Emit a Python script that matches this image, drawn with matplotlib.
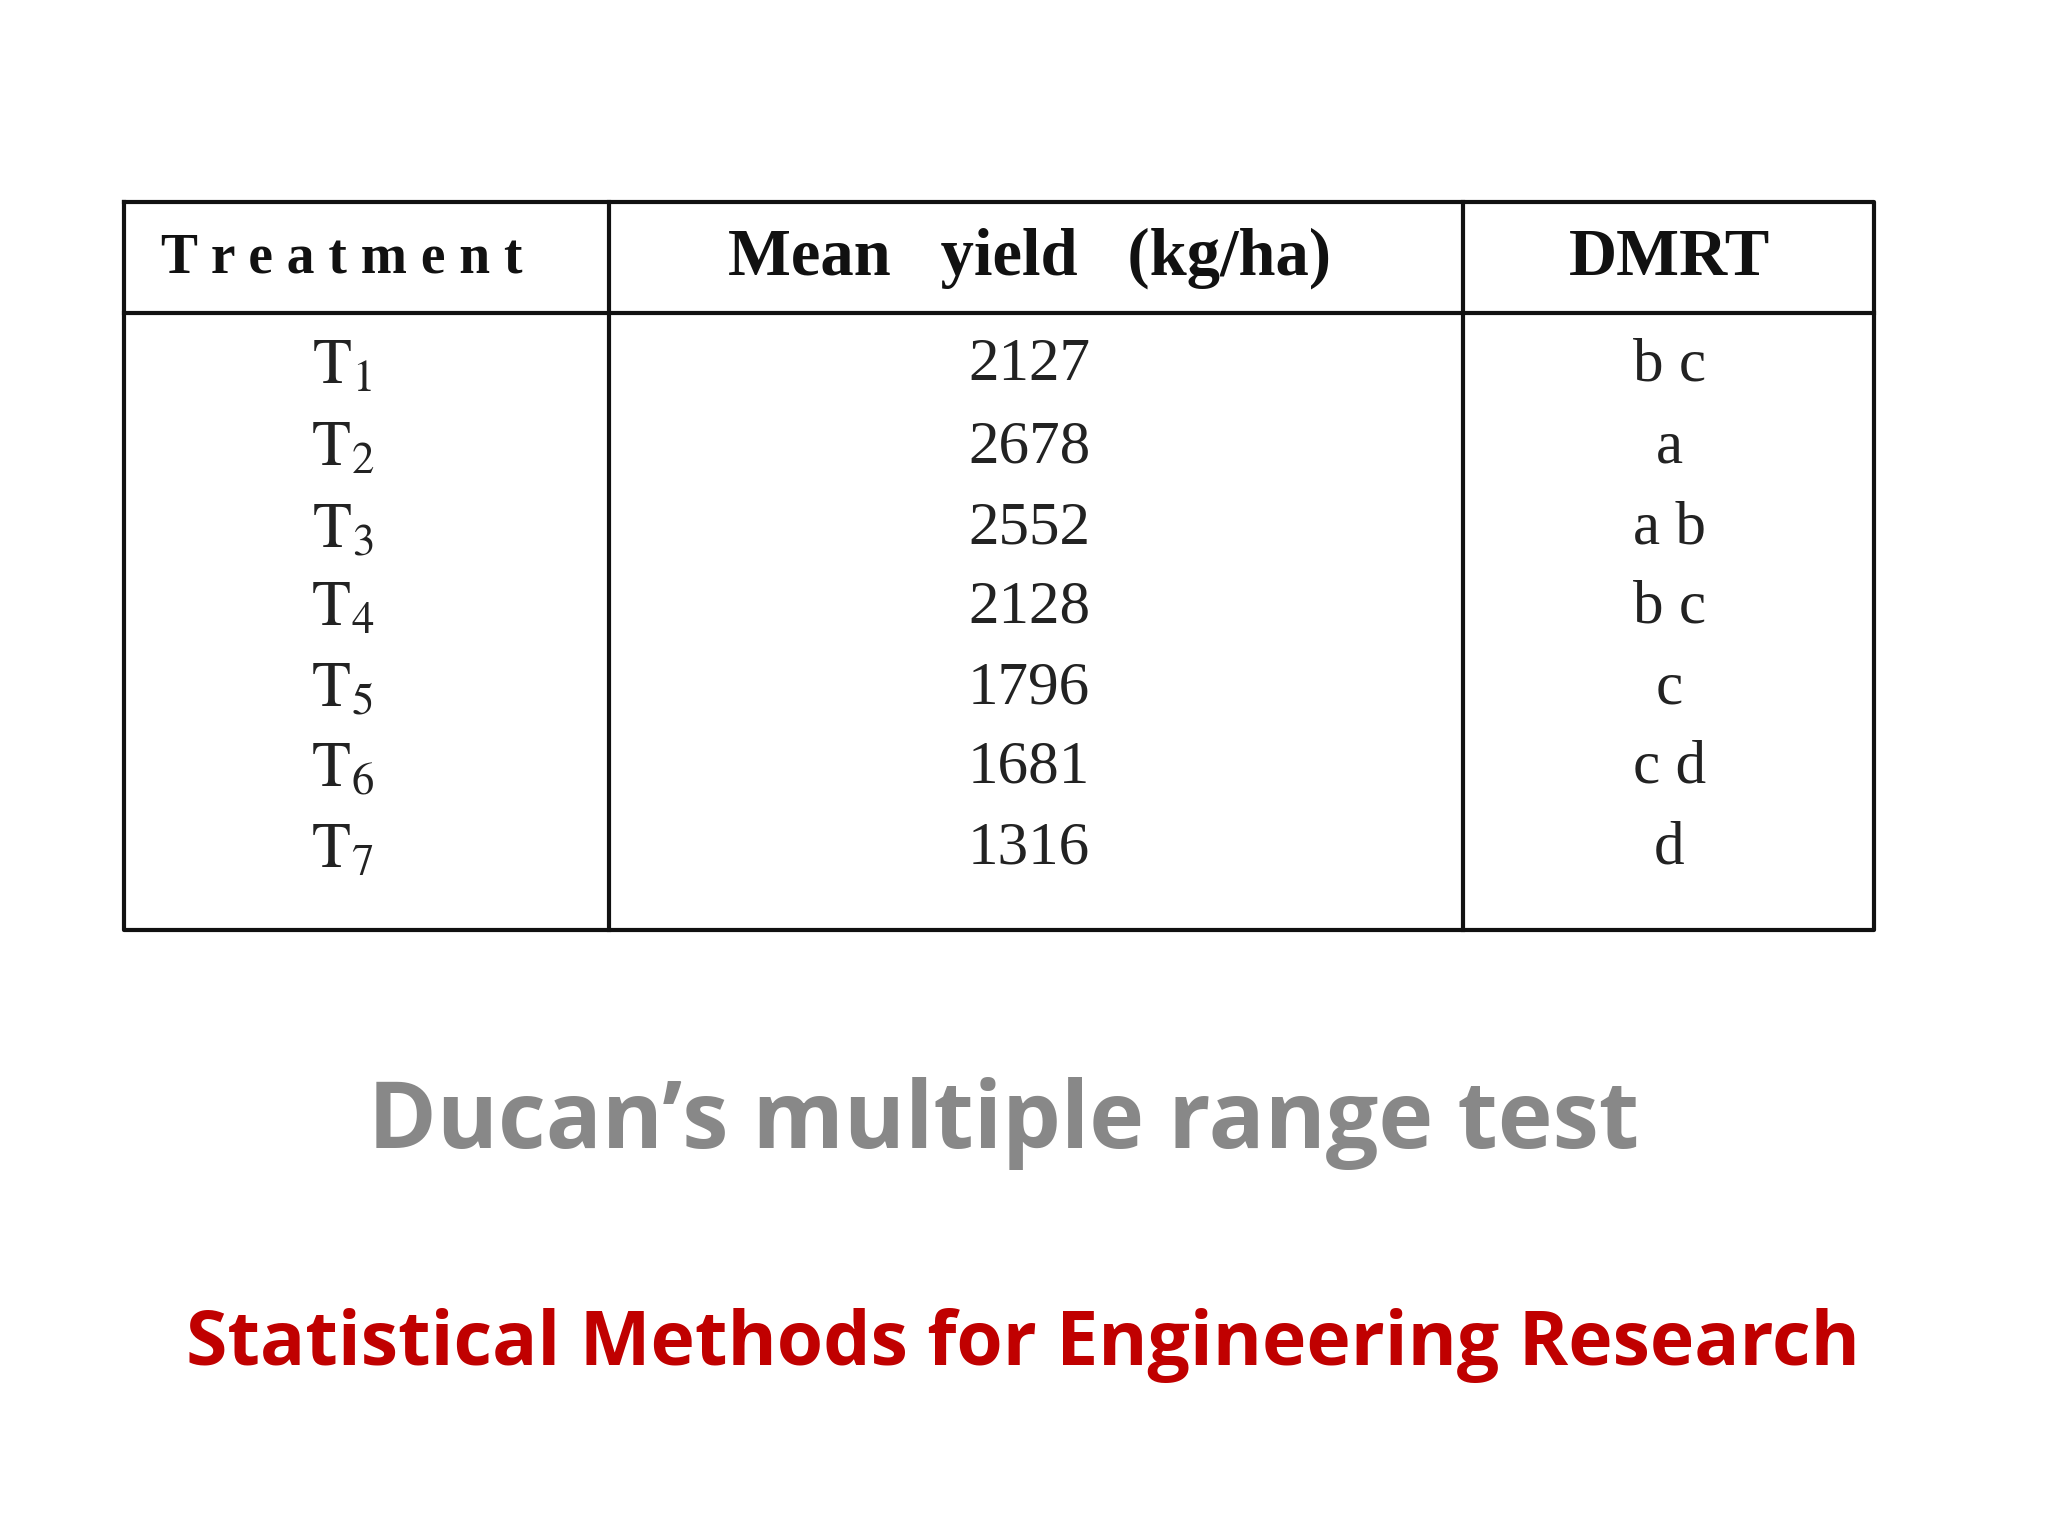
import matplotlib
matplotlib.use("Agg")
import matplotlib.pyplot as plt

treatments = ["1", "2", "3", "4", "5", "6", "7"]
mean_yield = [2127, 2678, 2552, 2128, 1796, 1681, 1316]
dmrt = ["bc", "a", "ab", "bc", "c", "cd", "d"]
headers = ["T r e a t m e n t", "Mean   yield   (kg/ha)", "DMRT"]

plt.rcParams['mathtext.fontset'] = 'stix'
W, H = 1568, 1176
fig = plt.figure(figsize=(20.48, 15.36), dpi=100)
fig.patch.set_facecolor("white")
ax = fig.add_axes([0, 0, 1, 1])
ax.set_xlim(0, W); ax.set_ylim(H, 0); ax.axis("off")

lw = 3
L, R, T, HB, B = 95, 1435, 155, 240, 712
c1, c2 = 466, 1120
ax.plot([L, R, R, L, L], [T, T, B, B, T], color="#111", lw=lw)
ax.plot([L, R], [HB, HB], color="#111", lw=lw)
ax.plot([c1, c1], [T, B], color="#111", lw=lw)
ax.plot([c2, c2], [T, B], color="#111", lw=lw)

cx = [262, 788, 1278]
serif = "Liberation Serif"
hsizes = [40, 48, 48]
for x, h, s in zip(cx, headers, hsizes):
    ax.text(x, 198, h, ha="center", va="center", fontsize=s, fontweight="bold",
            family=serif, color="#111")
ys = [280, 343, 405, 465, 527, 588, 650]
for y, t, m, d in zip(ys, treatments, mean_yield, dmrt):
    ax.text(cx[0], y, r"$\mathrm{T}_{%s}$" % t, ha="center", va="center", fontsize=46, color="#222")
    ax.text(cx[1], y, str(m), ha="center", va="center", fontsize=44, family=serif, color="#222")
    ax.text(cx[2], y, " ".join(d), ha="center", va="center", fontsize=44, family=serif, color="#222")

ax.text(768, 860, "Ducan\u2019s multiple range test", ha="center", va="center",
        fontsize=67, fontweight="bold", family="Open Sans", color="#888888")
ax.text(783, 1030, "Statistical Methods for Engineering Research", ha="center", va="center",
        fontsize=54, fontweight="bold", family="Open Sans", color="#C00000")
fig.savefig("out.png", dpi=100)
